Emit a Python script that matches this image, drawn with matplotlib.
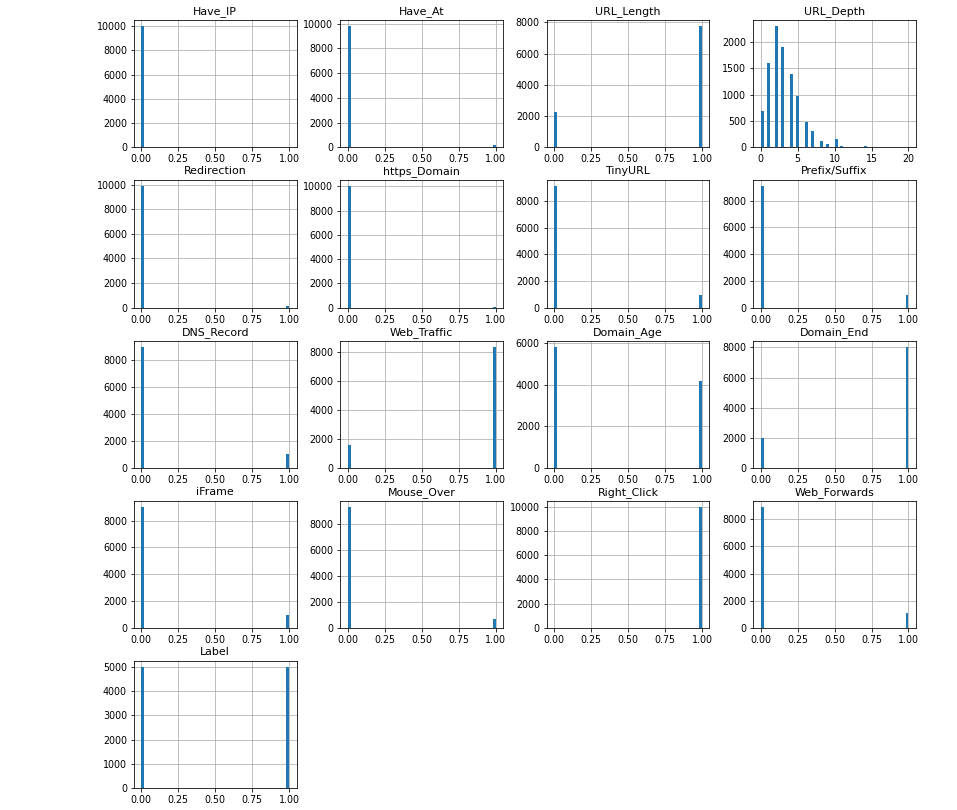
import matplotlib
matplotlib.use("Agg")
import matplotlib.pyplot as plt
import numpy as np

names = ["Have_IP", "Have_At", "URL_Length", "URL_Depth", "Redirection",
         "https_Domain", "TinyURL", "Prefix/Suffix", "DNS_Record", "Web_Traffic",
         "Domain_Age", "Domain_End", "iFrame", "Mouse_Over", "Right_Click",
         "Web_Forwards", "Label"]

# binary features: counts of 0 and 1
binary_counts = {
    "Have_IP": [9980, 20],
    "Have_At": [9790, 210],
    "URL_Length": [2250, 7750],
    "Redirection": [9840, 160],
    "https_Domain": [9980, 20],
    "TinyURL": [9090, 910],
    "Prefix/Suffix": [9070, 930],
    "DNS_Record": [8980, 1020],
    "Web_Traffic": [1600, 8400],
    "Domain_Age": [5830, 4170],
    "Domain_End": [1950, 8050],
    "iFrame": [9030, 970],
    "Mouse_Over": [9300, 700],
    "Right_Click": [20, 9980],
    "Web_Forwards": [8900, 1100],
    "Label": [5000, 5000],
}

depth_values = list(range(21))
depth_counts = [700, 1610, 2300, 1900, 1400, 970, 490, 320, 130, 60, 150,
                25, 5, 5, 25, 3, 2, 1, 1, 1, 1]

binary_ticks = [0.0, 0.25, 0.5, 0.75, 1.0]

fig, axes = plt.subplots(5, 4, figsize=(957/72, 810/72), dpi=72)
fig.subplots_adjust(left=0.14, right=0.957, top=0.975, bottom=0.027,
                    wspace=0.27, hspace=0.26)
axes = axes.ravel()
for ax, name in zip(axes, names):
    if name == "URL_Depth":
        ax.hist(depth_values, weights=depth_counts, bins=50, color="#1f77b4")
    else:
        ax.hist([0, 1], weights=binary_counts[name], bins=50, color="#1f77b4")
        ax.set_xticks(binary_ticks)
        ax.set_xticklabels(["%.2f" % t for t in binary_ticks])
    ax.set_title(name, fontsize=11)
    ax.grid(True, color="#b0b0b0", linewidth=0.8)
    ax.set_axisbelow(True)
    ax.tick_params(labelsize=9.5)
for ax in axes[len(names):]:
    ax.set_visible(False)

fig.savefig("out.png", dpi=72)
